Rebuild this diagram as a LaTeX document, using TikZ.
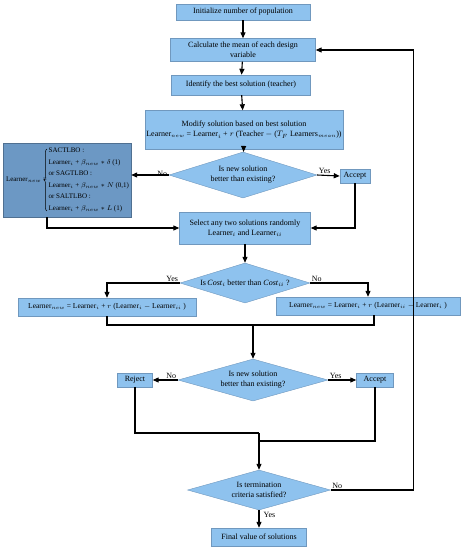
\documentclass[tikz,border=0pt]{standalone}
\usepackage{fontspec}
\setmainfont{Liberation Serif}
\usetikzlibrary{shapes.geometric,arrows.meta,decorations.pathreplacing}
\definecolor{boxblue}{RGB}{142,194,238}
\definecolor{boxline}{RGB}{112,152,190}
\definecolor{darkblue}{RGB}{108,152,196}
\definecolor{darkline}{RGB}{80,112,145}
\begin{document}
\begin{tikzpicture}[x=1pt,y=-1pt,
    proc/.style={draw=boxline, fill=boxblue, align=center, inner sep=1pt,
      font=\fontsize{8}{10}\selectfont},
    decide/.style={diamond, aspect=3.2, draw=boxline, fill=boxblue, align=center,
      inner sep=0pt, font=\fontsize{8}{10}\selectfont},
    lab/.style={font=\fontsize{8}{10}\selectfont, inner sep=1.5pt},
    flow/.style={line width=1.1pt, -{Triangle[length=6pt,width=5pt]}},
    wire/.style={line width=1.1pt}]
    \useasboundingbox (0,0) rectangle (464,550);

    \node[proc, minimum width=134pt, minimum height=16pt] (init) at (243,12) {Initialize number of population};
    \node[proc, minimum width=145pt, minimum height=23pt] (mean) at (243,50) {Calculate the mean of each design\\variable};
    \node[proc, minimum width=139pt, minimum height=20pt] (teach) at (241,85) {Identify the best solution (teacher)};
    \node[proc, minimum width=198pt, minimum height=39pt] (modify) at (244,130) {Modify solution based on best solution\\
      Learner$_{\scriptscriptstyle new}$ = Learner$_i$ + $r$ (Teacher $-$ ($T_F$ Learners$_{\scriptscriptstyle mean}$))};
    \node[decide, minimum width=148pt, minimum height=46pt] (better1) at (243,175) {Is new solution\\better than existing?};
    \node[proc, minimum width=30pt, minimum height=14pt] (accept1) at (355,176) {Accept};

    % self-adaptive update box
    \node[draw=darkline, fill=darkblue, minimum width=128pt, minimum height=74pt] (selfadapt) at (67,180) {};
    \node[anchor=west, inner sep=0pt, font=\fontsize{7}{9}\selectfont] (lhs) at ([xshift=3pt]selfadapt.west)
      {Learner$_{\scriptscriptstyle new}$ =};
    \node[anchor=east, inner sep=0pt, align=left, font=\fontsize{7}{11.5}\selectfont] (cases) at ([xshift=-2pt]selfadapt.east)
      {SACTLBO :\\
        Learner$_i$ + $\beta_{\scriptscriptstyle new} * \delta$ (1)\\
        or SAGTLBO :\\
        Learner$_i$ + $\beta_{\scriptscriptstyle new} * N$ (0,1)\\
        or SALTLBO :\\
        Learner$_i$ + $\beta_{\scriptscriptstyle new} * L$ (1)};
    \draw[decorate, decoration={brace, amplitude=3pt}, line width=0.5pt]
      ([xshift=-1.5pt,yshift=1pt]cases.south west) -- ([xshift=-1.5pt,yshift=-1pt]cases.north west);

    \node[proc, minimum width=131pt, minimum height=32pt] (select) at (245,228) {Select any two solutions randomly\\
      Learner$_i$ and Learner$_{ii}$};
    \node[decide, minimum width=130pt, minimum height=40pt] (cost) at (245,283) {Is$\,$\textit{Cost}$_i$ better than \textit{Cost}$_{ii}$ ?};
    \node[proc, minimum width=178pt, minimum height=18pt, font=\fontsize{7.5}{9}\selectfont] (learnl) at (107,307)
      {Learner$_{new}$ = Learner$_i$ + $r$ (Learner$_i$ $-$ Learner$_{ii}$ )};
    \node[proc, minimum width=184pt, minimum height=18pt, font=\fontsize{7.5}{9}\selectfont] (learnr) at (368,306)
      {Learner$_{new}$ = Learner$_i$ + $r$ (Learner$_{ii}$ $-$ Learner$_i$ )};
    \node[decide, minimum width=150pt, minimum height=42pt] (better2) at (253,380) {Is new solution\\better than existing?};
    \node[proc, minimum width=35pt, minimum height=14pt] (reject) at (135,380) {Reject};
    \node[proc, minimum width=37pt, minimum height=14pt] (accept2) at (375,380) {Accept};
    \node[decide, minimum width=143pt, minimum height=40pt] (stop) at (259,490) {Is termination\\criteria satisfied?};
    \node[proc, minimum width=95pt, minimum height=18pt] (final) at (259,537) {Final value of solutions};

    \coordinate (join1) at (253,325);
    \coordinate (join2) at (259,433);
    \coordinate (join3) at (259,441);

    \draw[flow] (init) -- (mean);
    \draw[flow] (mean) -- (teach);
    \draw[flow] (teach) -- (modify);
    \draw[flow] (modify) -- (better1);
    \draw[flow] (better1.west) -- (better1.west -| selfadapt.east);
    \draw[flow] (better1.east) -- (accept1.west);
    \draw[flow] (accept1.south) |- (select.east);
    \draw[flow] ([xshift=-20pt]selfadapt.south) |- (select.west);
    \draw[flow] (select) -- (cost);
    \draw[flow] (cost.west) -| (learnl.north);
    \draw[flow] (cost.east) -| (learnr.north);
    \draw[wire] (learnl.south) |- (join1) -| ([xshift=6pt]learnr.south);
    \draw[flow] (join1) -- (better2.north);
    \draw[flow] (better2.west) -- (reject.east);
    \draw[flow] (better2.east) -- (accept2.west);
    \draw[wire] (reject.south) |- (join2);
    \draw[wire] (accept2.south) |- (join3);
    \draw[flow] (join2) -- (stop.north);
    \draw[flow] (stop.south) -- (final.north);
    \draw[flow] (stop.east) -- ++(83,0) |- (mean.east);

    \node[lab, anchor=south east] (no1) at ([yshift=-3pt]better1.west) {No};
    \node[lab, anchor=south west] (yes1) at (better1.east) {Yes};
    \node[lab, anchor=south east] (yes2) at (cost.west) {Yes};
    \node[lab, anchor=south west] (no2) at (cost.east) {No};
    \node[lab, anchor=south east] (no3) at (better2.west) {No};
    \node[lab, anchor=south west] (yes3) at (better2.east) {Yes};
    \node[lab, anchor=south west] (no4) at (stop.east) {No};
    \node[lab, anchor=north west] (yes4) at ([xshift=3pt]stop.south) {Yes};

\end{tikzpicture}
\end{document}
